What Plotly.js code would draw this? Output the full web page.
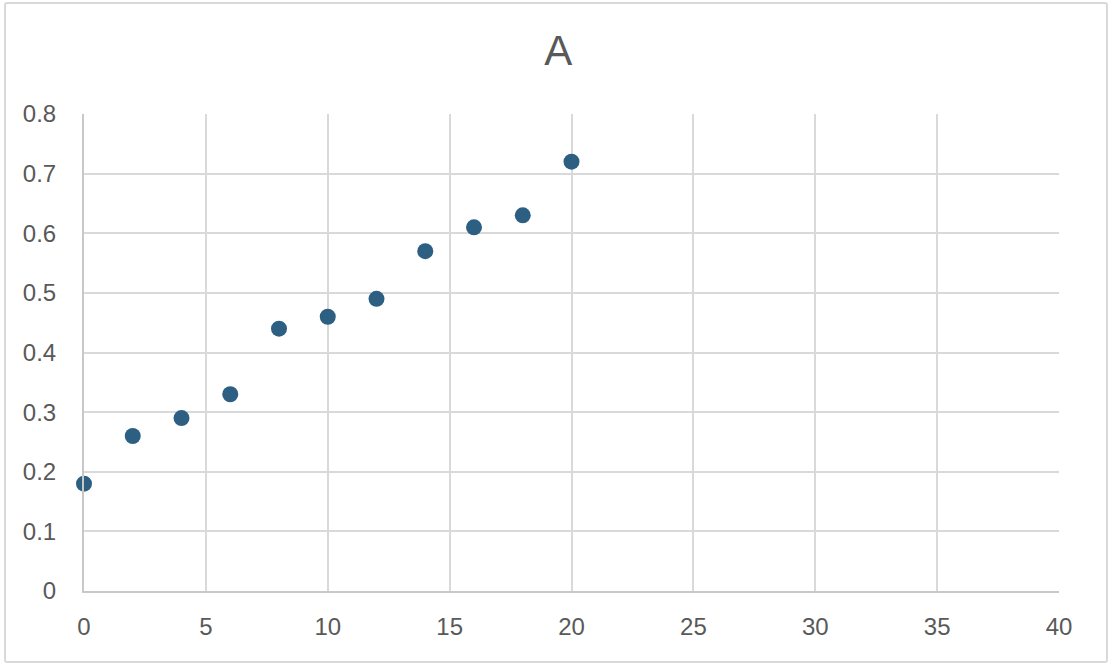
<!DOCTYPE html>
<html>
<head>
<meta charset="utf-8">
<script src="https://cdn.plot.ly/plotly-3.0.1.min.js"></script>
<style>
  body { margin: 0; background: #fff; }
  #wrap { position: relative; width: 1110px; height: 664px; }
  #chart { width: 1110px; height: 664px; }
  #frame { position: absolute; left: 4px; top: 2px; width: 1100px; height: 657px;
           border: 2px solid #d9d9d9; border-radius: 3px; pointer-events: none; }
</style>
</head>
<body>
<div id="wrap">
  <div id="chart"></div>
  <div id="frame"></div>
</div>
<script>
// datos
var xs = [0, 2, 4, 6, 8, 10, 12, 14, 16, 18, 20];
var ys = [0.18, 0.26, 0.29, 0.33, 0.44, 0.46, 0.49, 0.57, 0.61, 0.63, 0.72];
var xTicks = [0, 5, 10, 15, 20, 25, 30, 35, 40];
var yTicks = [0, 0.1, 0.2, 0.3, 0.4, 0.5, 0.6, 0.7, 0.8];
var yLabels = ['0', '0.1', '0.2', '0.3', '0.4', '0.5', '0.6', '0.7', '0.8'];

function dibujar() {
    var data = [
        {
          x: xs,
          y: ys,
          mode: 'markers',
          type: 'scatter',
          hoverinfo: 'none',
          marker: { color: '#2d5f82', size: 16 },
          cliponaxis: false
        }
      ];

    var layout = {
        width: 1110,
        height: 664,
        margin: { l: 84, r: 51, t: 114, b: 73 },
        paper_bgcolor: '#ffffff',
        plot_bgcolor: '#ffffff',
        showlegend: false,
        font: { family: 'Liberation Sans, Arial, sans-serif', color: '#595959', size: 24 },
        title: { text: 'A', x: 0.503, xanchor: 'center', y: 0.925, yanchor: 'middle',
                 font: { size: 42, color: '#595959' } },
        xaxis: {
          range: [0, 40],
          tickvals: xTicks,
          ticktext: xTicks.map(String),
          showgrid: true, gridcolor: '#d9d9d9', gridwidth: 2,
          showline: true, linecolor: '#c8c8c8', linewidth: 2,
          zeroline: false, ticks: '', ticklabelstandoff: 13,
          tickfont: { size: 24, color: '#595959' }
        },
        yaxis: {
          range: [0, 0.8],
          tickvals: yTicks,
          ticktext: yLabels,
          showgrid: true, gridcolor: '#d9d9d9', gridwidth: 2,
          showline: true, linecolor: '#c8c8c8', linewidth: 2,
          zeroline: false, ticks: '', ticklabelstandoff: 21,
          tickfont: { size: 24, color: '#595959' }
        }
      };

    Plotly.newPlot('chart', data, layout, { displayModeBar: false, staticPlot: true });
}

dibujar();
</script>
</body>
</html>
